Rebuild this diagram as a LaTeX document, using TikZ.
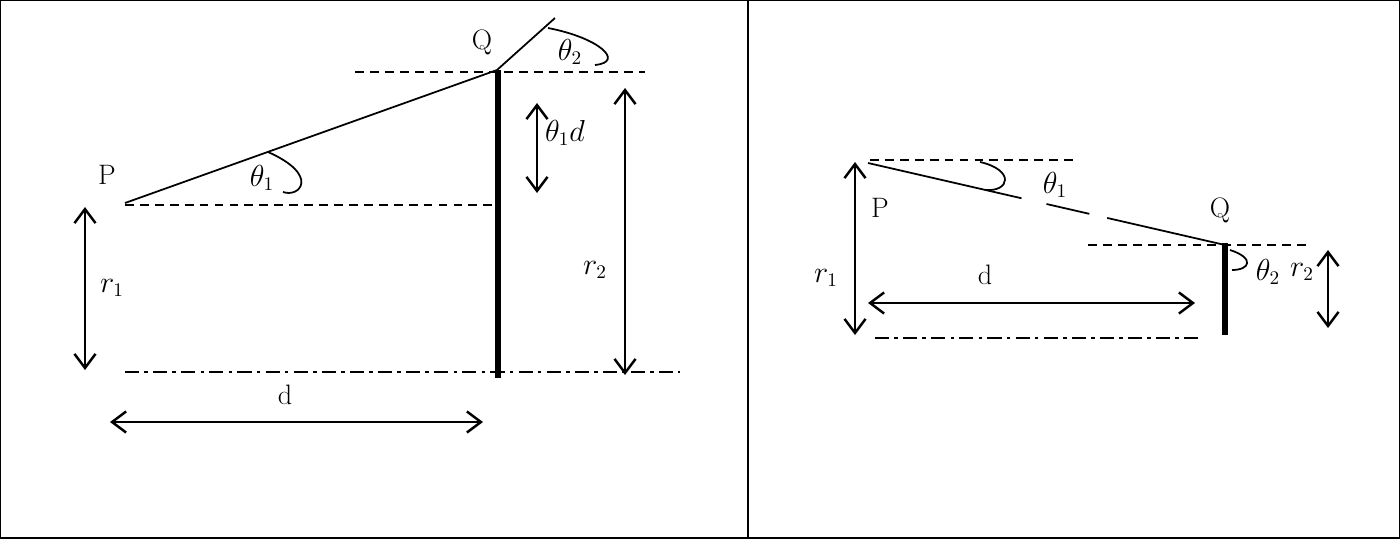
\documentclass[tikz,border=0pt]{standalone}
\usepackage{amsmath}
\usepackage{tikz}
\usetikzlibrary{arrows.meta, positioning, calc}
\begin{document}
\begin{tikzpicture}[x=0.02cm, y=-0.02cm, font=\fontsize{16}{18}\selectfont,
  dim/.style={{Straight Barb[length=8pt,width=12pt]}-{Straight Barb[length=8pt,width=12pt]}, line width=1.4pt},
  ray/.style={line width=1pt},
  bar/.style={line width=3.4pt},
  guide/.style={dash pattern=on 5pt off 3.5pt, line width=0.9pt},
  axis/.style={dash pattern=on 8pt off 3pt on 2pt off 3pt, line width=0.9pt},
  lbl/.style={inner sep=0pt}]
\useasboundingbox (0,0) rectangle (1400,538);
\draw[line width=0.8pt] (0,0) rectangle (1400,538) (748,0) -- (748,538);
% left panel
\coordinate (P1) at (125,203);
\coordinate (Q1) at (497,70);
\draw[ray] (P1) -- (Q1) -- (555,18);
\draw[guide] (355,72) -- (645,72);
\draw[guide] (125,205) -- (495,205);
\draw[axis] (125,372) -- (680,372);
\draw[bar] (498,70) -- (498,378);
\draw[dim] (85,207) -- (85,370);
\draw[dim] (625,88) -- (625,375);
\draw[dim] (537,103) -- (537,193);
\draw[dim] (110,422) -- (483,422);
\draw[ray] (268,152) .. controls (320,175) and (300,198) .. (283,192);
\draw[ray] (548,28) .. controls (600,38) and (625,62) .. (595,65);
\node[lbl] (p1) at (107,175) {P};
\node[lbl] (q1) at (482,42) {Q};
\node[lbl] (r1) at (112,288) {$r_1$};
\node[lbl] (r2) at (595,270) {$r_2$};
\node[lbl] (t1d) at (565,133) {$\theta_1 d$};
\node[lbl] (d1) at (285,395) {d};
\node[lbl] (t1) at (262,178) {$\theta_1$};
\node[lbl] (t2) at (570,52) {$\theta_2$};
% right panel
\coordinate (P2) at (868,163);
\coordinate (Q2) at (1225,245);
\draw[ray] (P2) -- ($(P2)!0.43!(Q2)$) ($(P2)!0.50!(Q2)$) -- ($(P2)!0.62!(Q2)$) ($(P2)!0.67!(Q2)$) -- (Q2);
\draw[guide] (870,160) -- (1075,160);
\draw[guide] (1088,245) -- (1312,245);
\draw[axis] (875,338) -- (1200,338);
\draw[bar] (1225,243) -- (1225,335);
\draw[dim] (855,162) -- (855,335);
\draw[dim] (868,303) -- (1195,303);
\draw[dim] (1328,250) -- (1328,328);
\draw[ray] (980,162) .. controls (1015,170) and (1010,192) .. (985,190);
\draw[ray] (1230,250) .. controls (1255,258) and (1250,270) .. (1232,270);
\node[lbl] (p2) at (880,208) {P};
\node[lbl] (q2) at (1220,210) {Q};
\node[lbl] (r12) at (826,278) {$r_1$};
\node[lbl] (r22) at (1302,272) {$r_2$};
\node[lbl] (d2) at (985,275) {d};
\node[lbl] (t12) at (1055,185) {$\theta_1$};
\node[lbl] (t22) at (1268,272) {$\theta_2$};
\end{tikzpicture}
\end{document}
